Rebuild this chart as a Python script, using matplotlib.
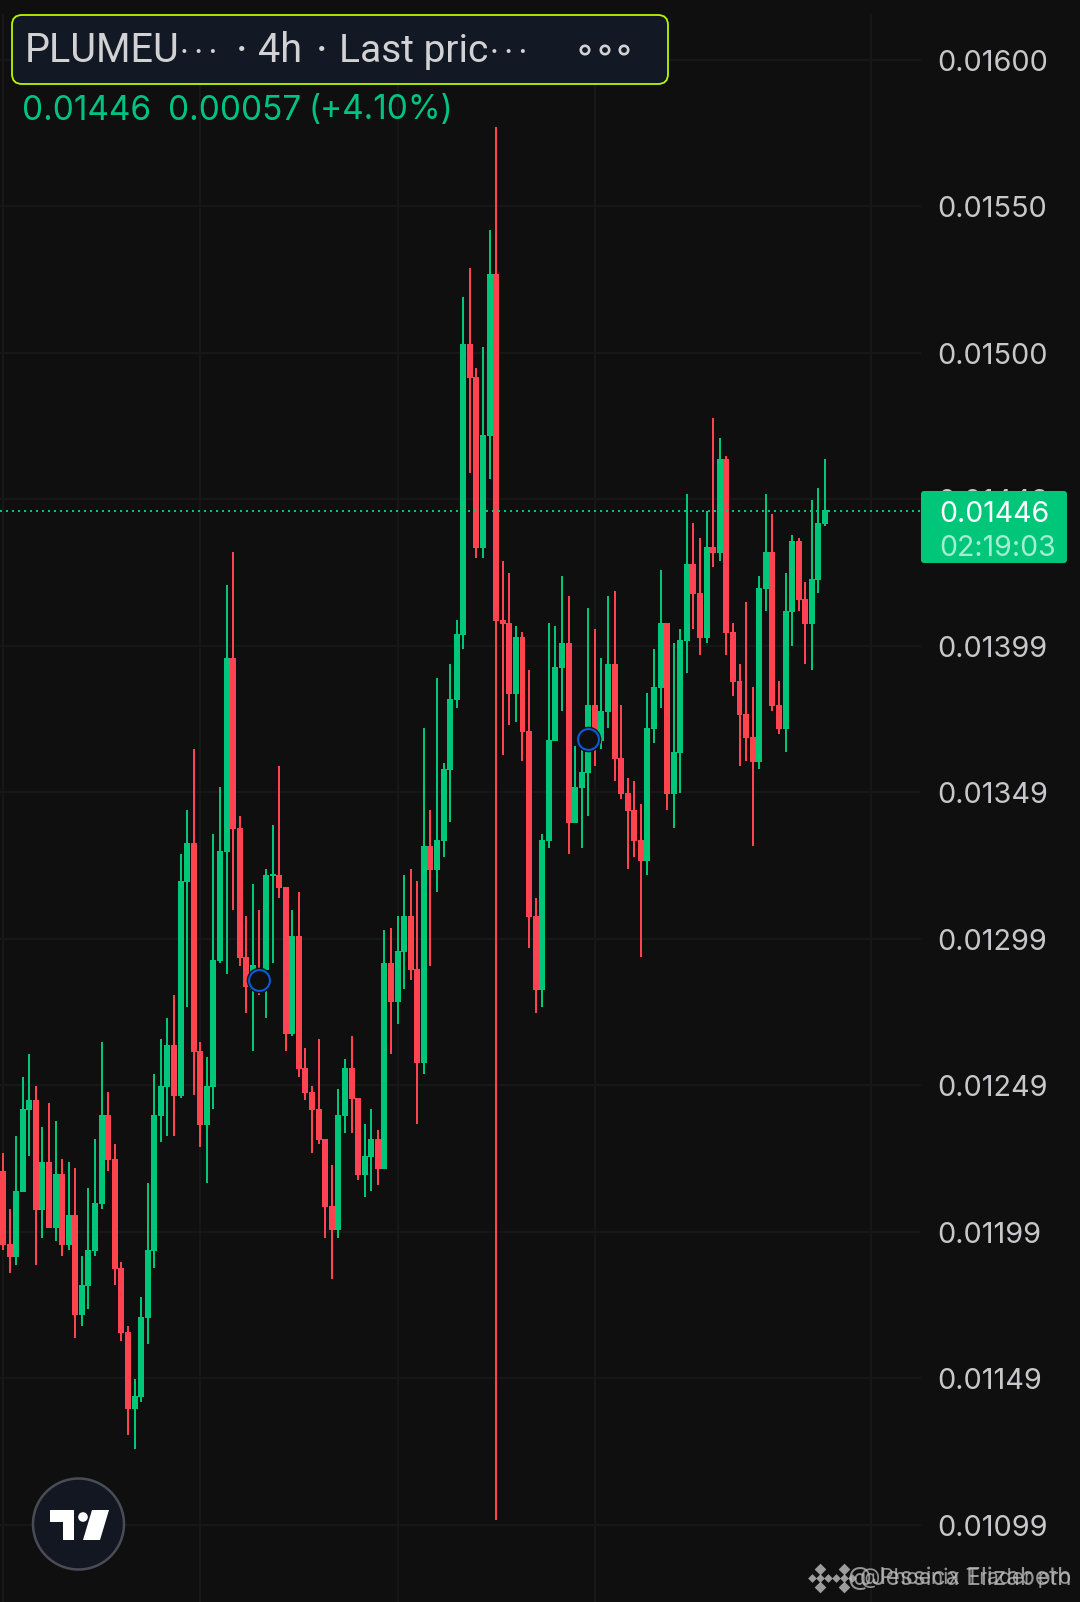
import numpy as np
import matplotlib
matplotlib.use('Agg')
import matplotlib.pyplot as plt
from matplotlib.patches import FancyBboxPatch, Circle, Polygon
from matplotlib.transforms import ScaledTranslation

# 4h candles, price in units of 1e-6
highs = [12262, 12070, 12320, 12522, 12600, 12491, 12351, 12433, 12371, 12241,
         12231, 12210, 11909, 12142, 12310, 12641, 12470, 12293, 11889, 11670,
         11489, 11769, 12159, 12532, 12652, 12723, 12802, 13284, 13435, 13643,
         12641, 12590, 13353, 13513, 14204, 14317, 13414, 13072, 13182, 13093,
         13233, 13383, 13585, 13171, 13093, 13154, 12621, 12491, 12652, 12310,
         12221, 12481, 12583, 12662, 12450, 12361, 12412, 12340, 13024, 13031,
         13072, 13212, 13233, 13192, 13715, 13435, 13886, 13596, 13934, 14085,
         15189, 15288, 14946, 15018, 15418, 15771, 14286, 14245, 14064, 14044,
         13914, 13134, 13353, 14074, 14064, 14235, 14167, 13653, 13640, 14126,
         14054, 13955, 14167, 14184, 13794, 13544, 13534, 13455, 13835, 13985,
         14256, 14074, 14006, 14054, 14515, 14416, 14365, 14457, 14775, 14707,
         14645, 14074, 13934, 14146, 13855, 14235, 14515, 14447, 13876, 14245,
         14375, 14365, 14215, 14495, 14536, 14635]
lows = [11930, 11851, 11879, 12128, 12251, 11879, 11971, 12005, 11961, 11909,
        11930, 11629, 11670, 11728, 11909, 12070, 12200, 11810, 11619, 11297,
        11249, 11410, 11609, 11868, 12299, 12320, 12320, 12450, 12761, 12460,
        12282, 12159, 12412, 12912, 12874, 13093, 12901, 12741, 12611, 12802,
        12723, 12912, 13134, 12611, 12662, 12522, 12443, 12262, 12293, 11971,
        11831, 11971, 12330, 12330, 12169, 12111, 12132, 12152, 12207, 12600,
        12703, 12823, 12853, 12361, 12532, 12901, 13154, 13274, 13394, 13784,
        13985, 14587, 14297, 14297, 14567, 11007, 13623, 13725, 13736, 13603,
        12963, 12741, 12761, 13305, 13671, 13773, 13284, 13390, 13305, 13414,
        13585, 13643, 13715, 13534, 13473, 13233, 13274, 12932, 13212, 13664,
        13784, 13435, 13373, 13493, 13903, 14054, 13965, 14006, 14266, 14286,
        13965, 13825, 13585, 13603, 13312, 13575, 14115, 13773, 13695, 13633,
        13996, 14115, 13934, 13914, 14177, 14406]
opens = [12200, 11951, 11906, 12128, 12409, 12443, 12067, 12231, 12005, 12190,
         11947, 12050, 11708, 11807, 11927, 12087, 12392, 12241, 11868, 11650,
         11386, 11427, 11697, 11927, 12388, 12487, 12631, 12457, 13189, 13322,
         12611, 12357, 12487, 12919, 13291, 13955, 13373, 12932, 12819, 12895,
         12888, 13209, 13212, 13171, 12669, 13004, 12552, 12470, 12412, 12310,
         12080, 11998, 12388, 12552, 12450, 12186, 12248, 12310, 12207, 12912,
         12778, 12949, 13072, 12891, 12570, 13312, 13230, 13329, 13572, 13811,
         14033, 15029, 14916, 14331, 14714, 15268, 14085, 14074, 13832, 14027,
         13705, 13072, 12819, 13329, 13671, 13921, 14006, 13390, 13510, 13561,
         13794, 13671, 13770, 13934, 13613, 13493, 13435, 13332, 13260, 13712,
         13852, 14074, 13490, 13630, 14013, 14276, 14177, 14023, 14334, 14314,
         14635, 14044, 13876, 13763, 13684, 13599, 14191, 14317, 13794, 13712,
         14112, 14355, 14156, 14071, 14221, 14413]
closes = [11947, 11906, 12132, 12412, 12443, 12067, 12231, 12005, 12190, 11947,
          12050, 11708, 11810, 11930, 12091, 12392, 12238, 11865, 11646, 11386,
          11431, 11701, 11930, 12392, 12491, 12631, 12457, 13192, 13322, 12607,
          12357, 12491, 12922, 13295, 13955, 13370, 12929, 12829, 12905, 12812,
          13212, 13216, 13168, 12669, 13004, 12549, 12467, 12409, 12306, 12077,
          11998, 12392, 12552, 12446, 12186, 12251, 12310, 12207, 12912, 12778,
          12953, 13072, 12888, 12570, 13312, 13230, 13332, 13575, 13814, 14037,
          15029, 14912, 14331, 14717, 15268, 14081, 14071, 13832, 14027, 13702,
          13069, 12819, 13332, 13674, 13924, 14006, 13390, 13513, 13565, 13794,
          13691, 13773, 13934, 13609, 13490, 13431, 13329, 13260, 13715, 13855,
          14074, 13490, 13633, 14016, 14276, 14173, 14023, 14334, 14314, 14635,
          14040, 13873, 13760, 13681, 13599, 14194, 14317, 13790, 13712, 14115,
          14355, 14153, 14071, 14225, 14416, 14461]

tick_values = [16000, 15499, 14998, 14497, 13996, 13495, 12994, 12493, 11992, 11491, 10990]
tick_labels = ['0.01600', '0.01550', '0.01500', '0.01449', '0.01399', '0.01349',
               '0.01299', '0.01249', '0.01199', '0.01149', '0.01099']
grid_bars = [0, 30, 60, 90, 132]
signal_bars = [39, 89]
signal_prices = [12853, 13678]
last_price = 14458

BG = '#0f0f0f'
GRID = '#171717'
GREEN = '#00c67a'
RED = '#ff4350'
LABEL = '#c8c8ca'

plt.rcParams['font.family'] = ['Inter', 'DejaVu Sans']

fig = plt.figure(figsize=(10.8, 16.02), dpi=100, facecolor=BG)

# chart pane stops where the price scale starts
ax = fig.add_axes([0, 0, 921 / 1080, 1588 / 1602], facecolor=BG)
ax.set_xlim(-0.456, 139.6)
ax.set_ylim(10726, 16157)

x = np.arange(len(opens))
o = np.array(opens)
c = np.array(closes)
colors = [GREEN if up else RED for up in c >= o]

ax.vlines(x, lows, highs, colors=colors, linewidth=1.44, zorder=3)
ax.bar(x, np.abs(c - o), bottom=np.minimum(o, c), width=0.91, color=colors, linewidth=0, zorder=4)

ax.axhline(last_price, color=GREEN, linewidth=1.44, linestyle=(0, (1, 2)), zorder=5)

ax.scatter(signal_bars, signal_prices, s=340, color='#101010', linewidth=0, zorder=6)
ax.scatter(signal_bars, signal_prices, s=225, facecolor=BG, edgecolor='#0b5ad9', linewidth=1.5, zorder=7)

ax.set_xticks(grid_bars)
ax.set_yticks(tick_values, tick_labels)
ax.grid(True, color=GRID, linewidth=1.44, zorder=0)
ax.set_axisbelow(True)
ax.tick_params(axis='x', length=0, labelbottom=False)
ax.tick_params(axis='y', length=0, labelleft=False, labelright=True, right=False, left=False,
               pad=11.8, labelsize=20.8, labelcolor=LABEL)
down_1px = ScaledTranslation(0, -0.5 / 100, fig.dpi_scale_trans)
for label in ax.get_yticklabels():
    label.set_transform(label.get_transform() + down_1px)
for s in ax.spines.values():
    s.set_visible(False)

# overlay in picture pixels for the app chrome
ov = fig.add_axes([0, 0, 1, 1], facecolor='none')
ov.set_xlim(0, 1080)
ov.set_ylim(1602, 0)
ov.axis('off')

ov.add_patch(FancyBboxPatch((12, 15), 656, 69, boxstyle='round,pad=0,rounding_size=10',
                            facecolor='#131825', edgecolor='#b8f600', linewidth=1.3))
HEAD = '#d2d2d4'
DOTS = '\u00b7\u200a\u200a\u00b7\u200a\u200a\u00b7'
ov.text(25, 62, 'PLUMEU', color=HEAD, fontsize=28.5, va='baseline', family='Roboto')
ov.text(180, 62, DOTS, color=HEAD, fontsize=22, va='baseline')
ov.text(236, 62, '\u00b7', color=HEAD, fontsize=28.5, va='baseline')
ov.text(258, 62, '4h', color=HEAD, fontsize=28.5, va='baseline', family='Roboto')
ov.text(316, 62, '\u00b7', color=HEAD, fontsize=28.5, va='baseline')
ov.text(339, 62, 'Last pric', color=HEAD, fontsize=28, va='baseline', family='Roboto')
ov.text(490, 62, DOTS, color=HEAD, fontsize=22, va='baseline')
for cx in [585, 605, 624]:
    ov.add_patch(Circle((cx, 50), 4.2, facecolor='none', edgecolor=HEAD, linewidth=1.9))

ov.text(22, 119.5, '0.01446', color='#00c382', fontsize=24, va='baseline')
ov.text(168, 119.5, '0.00057', color='#00c382', fontsize=24, va='baseline')
ov.text(309, 119.5, '(+4.10%)', color='#00c382', fontsize=24, va='baseline')

# last price badge
ov.add_patch(FancyBboxPatch((921, 491), 146, 72, boxstyle='round,pad=0,rounding_size=3',
                            facecolor=GREEN, edgecolor='none'))
ov.text(994.5, 514, '0.01446', color='white', fontsize=20.5, ha='center', va='center')
ov.text(997.5, 548, '02:19:03', color='#a3eed2', fontsize=20.5, ha='center', va='center')

# TradingView logo
ov.add_patch(Circle((78.5, 1524), 45.5, facecolor='#131722', edgecolor='#4a4c55', linewidth=1.8))
ov.add_patch(Polygon([(50, 1510), (74, 1510), (74, 1540), (63, 1540), (63, 1522), (50, 1522)],
                     facecolor='white', edgecolor='none'))
ov.add_patch(Circle((83, 1517), 4.8, facecolor='white', edgecolor='none'))
ov.add_patch(Polygon([(92, 1510), (109, 1510), (100, 1540), (83, 1540)], facecolor='white', edgecolor='none'))

# two watermarks on top of each other
WM = '#c0c0c0'
for lx in [820, 844]:
    for dx, dy, r in [(0, -9, 4), (0, 9, 4), (-8, 0, 3), (8, 0, 3), (0, 0, 3)]:
        ov.scatter([lx + dx], [1578 + dy], marker='D', s=r * r * 2.2, color=WM, linewidth=0, alpha=0.8)
ov.text(1071, 1578, '@Jessica Elizabeth', color=WM, fontsize=17.6, ha='right', va='center', alpha=0.75)
ov.text(1071, 1578, '@Phoenix Trader pro', color=WM, fontsize=15.1, ha='right', va='center', alpha=0.75)

fig.savefig('out.png', dpi=100, facecolor=BG)
